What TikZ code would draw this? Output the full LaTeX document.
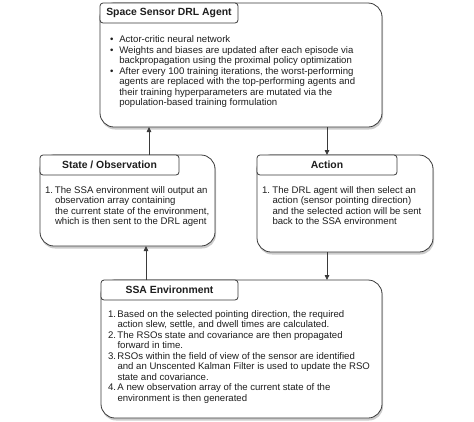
\documentclass[tikz,border=0pt]{standalone}
\usepackage{fontspec}
\setmainfont{Liberation Sans}
\usetikzlibrary{shadows,arrows.meta}
\definecolor{edge}{HTML}{3A3A3A}
\definecolor{ink}{HTML}{1E1E1E}
\begin{document}
\begin{tikzpicture}[x=1pt,y=-1pt,
  mainbox/.style={draw=edge, line width=0.8pt, fill=white, rounded corners=14pt,
    inner sep=0pt, outer sep=0pt, anchor=north west,
    drop shadow={shadow xshift=1pt, shadow yshift=-2.5pt, opacity=0.4}},
  titlebox/.style={draw=edge, line width=0.8pt, fill=white, rounded corners=3pt,
    inner sep=0pt, outer sep=0pt, anchor=north west, minimum height=20pt,
    text=ink, font=\fontsize{10.4}{12}\selectfont\bfseries},
  body/.style={inner sep=0pt, outer sep=0pt, anchor=base west, text=ink,
    font=\fontsize{9.6}{10.5}\selectfont},
  conn/.style={draw=edge, line width=0.8pt, -{Triangle[length=5pt,width=4.5pt]}}
]
\useasboundingbox (0,0) rectangle (474,421);

% Space Sensor DRL Agent
\node[mainbox, minimum width=282pt, minimum height=124pt] (agent) at (100,3) {};
\node[titlebox, minimum width=138pt] (agentT) at (100,3) {Space Sensor DRL Agent};
\node[body] (agentB) at (110,42.5) {\begin{tabular}[t]{@{}p{9.3pt}@{}l@{}}
•& Actor-critic neural network\\
•& Weights and biases are updated after each episode via\\
 & backpropagation using the proximal policy optimization\\
•& After every 100 training iterations, the worst-performing\\
 & agents are replaced with the top-performing agents and\\
 & their training hyperparameters are mutated via the\\
 & population-based training formulation
\end{tabular}};

% State / Observation
\node[mainbox, minimum width=175pt, minimum height=91pt] (state) at (40,155) {};
\node[titlebox, minimum width=139pt] (stateT) at (40,155) {State / Observation};
\node[body] (stateB) at (45,193) {\begin{tabular}[t]{@{}p{10pt}@{}l@{}}
1.& The SSA environment will output an\\
  & observation array containing\\
  & the current state of the environment,\\
  & which is then sent to the DRL agent
\end{tabular}};

% Action
\node[mainbox, minimum width=176pt, minimum height=97pt] (action) at (257,155) {};
\node[titlebox, minimum width=140pt] (actionT) at (257,155) {Action};
\node[body] (actionB) at (262,193) {\begin{tabular}[t]{@{}p{10.5pt}@{}l@{}}
1.& The DRL agent will then select an\\
  & action (sensor pointing direction)\\
  & and the selected action will be sent\\
  & back to the SSA environment
\end{tabular}};

% SSA Environment
\node[mainbox, minimum width=281pt, minimum height=138pt] (ssa) at (101,280) {};
\node[titlebox, minimum width=137pt] (ssaT) at (101,280) {SSA Environment};
\node[body] (ssaB) at (108,317) {\begin{tabular}[t]{@{}p{9.5pt}@{}l@{}}
1.& Based on the selected pointing direction, the required\\
  & action slew, settle, and dwell times are calculated.\\
2.& The RSOs state and covariance are then propagated\\
  & forward in time.\\
3.& RSOs within the field of view of the sensor are identified\\
  & and an Unscented Kalman Filter is used to update the RSO\\
  & state and covariance.\\
4.& A new observation array of the current state of the\\
  & environment is then generated
\end{tabular}};

% connectors
\coordinate (cr) at (327,0);
\coordinate (cl) at (149,0);
\coordinate (cl2) at (146,0);
\draw[conn] (agent.south -| cr) -- (action.north -| cr);
\draw[conn] (action.south -| cr) -- (ssa.north -| cr);
\draw[conn] (ssa.north -| cl2) -- (state.south -| cl2);
\draw[conn] (state.north -| cl) -- (agent.south -| cl);
\end{tikzpicture}
\end{document}
